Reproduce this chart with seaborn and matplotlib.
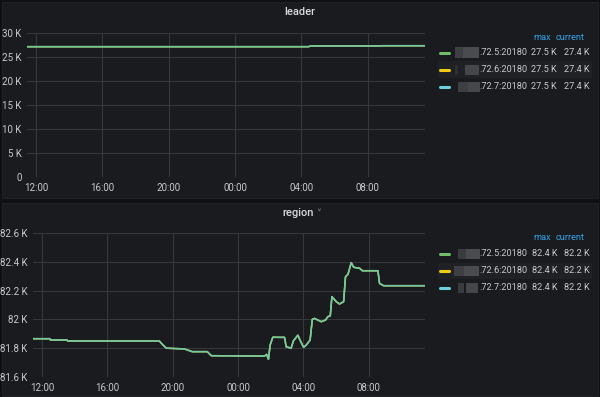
import matplotlib
matplotlib.use("Agg")
import matplotlib.pyplot as plt
import matplotlib.dates as mdates
from matplotlib.patches import Rectangle
import seaborn as sns
import pandas as pd
from datetime import datetime, timedelta

# ---------------- data ----------------
series_names = [".72.5:20180", ".72.6:20180", ".72.7:20180"]
series_colors = ["#73BF69", "#F2CC0C", "#6ED0E0"]

leader_times = ["11:27", "04:25", "04:35", "08:40", "08:50", "11:27"]
leader_values = [27150, 27150, 27300, 27300, 27350, 27350]
leader_max = ["27.5 K", "27.5 K", "27.5 K"]
leader_current = ["27.4 K", "27.4 K", "27.4 K"]

region_times = ["11:27", "12:29", "12:31", "13:32", "13:34", "19:11", "19:22", "19:37",
                "20:43", "21:12", "22:07", "22:22", "01:37", "01:45", "01:52", "01:58",
                "02:08", "02:51", "02:57", "03:15", "03:24", "03:40", "03:49", "04:01",
                "04:11", "04:25", "04:33", "04:41", "05:06", "05:22", "05:30", "05:39",
                "05:45", "06:01", "06:13", "06:28", "06:35", "06:44", "06:56", "07:05",
                "07:27", "07:37", "08:34", "08:40", "08:55", "11:27"]
region_values = [81866, 81866, 81857, 81857, 81850, 81850, 81827, 81800,
                 81795, 81776, 81776, 81748, 81745, 81757, 81723, 81822,
                 81876, 81875, 81810, 81800, 81852, 81890, 81852, 81806,
                 81822, 81857, 82000, 82007, 81984, 81996, 82019, 82024,
                 82158, 82123, 82107, 82123, 82296, 82313, 82394, 82362,
                 82355, 82338, 82338, 82250, 82234, 82234]
region_max = ["82.4 K", "82.4 K", "82.4 K"]
region_current = ["82.2 K", "82.2 K", "82.2 K"]

leader_yticks = [0, 5000, 10000, 15000, 20000, 25000, 30000]
region_yticks = [81600, 81800, 82000, 82200, 82400, 82600]


def to_dt(times):
    base = datetime(2020, 1, 1)
    out, day, prev = [], 0, None
    for t in times:
        h, m = map(int, t.split(":"))
        mins = h * 60 + m
        if prev is not None and mins < prev:
            day += 1
        prev = mins
        out.append(base + timedelta(days=day, minutes=mins))
    return out


def make_df(times, values, name):
    dts = to_dt(times)
    return pd.DataFrame({"time": dts, "value": values, "series": name})


# ---------------- style ----------------
sns.set_theme(style="dark")
plt.rcParams["font.family"] = ["Roboto", "DejaVu Sans"]

W, H = 600, 397
BG = "#0f1013"
PANEL = "#1a1b1f"
GRID = "#36373b"
TXT = "#c8c9ca"

fig = plt.figure(figsize=(W / 100, H / 100), dpi=100, facecolor=BG)


def fx(x):
    return x / W


def fy(y):
    return 1 - y / H


# panel backgrounds
for (y0, y1) in [(2, 198), (203, 396)]:
    fig.patches.append(Rectangle((fx(2), fy(y1)), fx(596), (y1 - y0) / H,
                                 transform=fig.transFigure, facecolor=PANEL,
                                 edgecolor="#232428", lw=0.6, zorder=-5))

t0 = datetime(2020, 1, 1, 11, 27)
t1 = datetime(2020, 1, 2, 11, 27)


def style_axes(ax, yticks, fmt):
    ax.set_facecolor("none")
    for s in ax.spines.values():
        s.set_visible(False)
    ax.set_xlim(t0, t1)
    ax.set_ylim(yticks[0], yticks[-1])
    ax.set_yticks(yticks)
    ax.set_yticklabels([fmt(v) for v in yticks])
    ax.xaxis.set_major_locator(mdates.HourLocator(byhour=[0, 4, 8, 12, 16, 20]))
    ax.xaxis.set_major_formatter(mdates.DateFormatter("%H:%M"))
    ax.grid(True, color=GRID, lw=0.8)
    ax.tick_params(colors=TXT, labelsize=7, length=0, pad=4)
    ax.set_xlabel("")
    ax.set_ylabel("")
    leg = ax.get_legend()
    if leg:
        leg.remove()


def kfmt_leader(v):
    return "0" if v == 0 else f"{int(v / 1000)} K"


def kfmt_region(v):
    s = f"{v / 1000:.1f}"
    if s.endswith(".0"):
        s = s[:-2]
    return f"{s} K"


line_alpha = [1.0, 1.0, 0.55]
line_z = [2.2, 2.1, 2.3]


def draw_series(ax, times, values):
    for name, col, a, z in zip(series_names, series_colors, line_alpha, line_z):
        sns.lineplot(data=make_df(times, values, name), x="time", y="value",
                     color=col, ax=ax, estimator=None, sort=False,
                     lw=1.1, alpha=a, zorder=z)


# upper panel
ax1 = fig.add_axes([fx(27), fy(177), fx(425 - 27), (177 - 33) / H])
draw_series(ax1, leader_times, leader_values)
style_axes(ax1, leader_yticks, kfmt_leader)

# lower panel
ax2 = fig.add_axes([fx(33), fy(377), fx(425 - 33), (377 - 233) / H])
draw_series(ax2, region_times, region_values)
style_axes(ax2, region_yticks, kfmt_region)

# titles
fig.text(fx(300), fy(12), "leader", color="#d8d9da", fontsize=8, ha="center",
         va="center", fontweight="medium")
fig.text(fx(298), fy(213), "region", color="#d8d9da", fontsize=8, ha="center",
         va="center", fontweight="medium")
fig.text(fx(319), fy(214), "˅", color="#8e8e8e", fontsize=7, ha="center",
         va="center", family=["DejaVu Sans"])

LFS = 6.6


# legends
def draw_legend(top, maxes, currents, blur_specs):
    fig.text(fx(551), fy(top), "max", color="#33a2e5", fontsize=LFS, ha="right",
             va="center")
    fig.text(fx(585), fy(top), "current", color="#33a2e5", fontsize=LFS, ha="right",
             va="center")
    for i, name in enumerate(series_names):
        y = top + 15.5 + i * 17
        if i == 1:
            fig.patches.append(Rectangle((fx(438), fy(y + 8)), fx(154), 16 / H,
                                         transform=fig.transFigure,
                                         facecolor="#202125", edgecolor="none",
                                         zorder=-4))
        fig.add_artist(plt.Line2D([fx(440), fx(449)], [fy(y), fy(y)],
                                  color=series_colors[i], lw=2.2,
                                  transform=fig.transFigure))
        for (bx, bw, bc) in blur_specs[i]:
            fig.patches.append(Rectangle((fx(bx), fy(y + 5)), fx(bw), 10 / H,
                                         transform=fig.transFigure,
                                         facecolor=bc, edgecolor="none",
                                         zorder=2))
        fig.text(fx(479), fy(y), name, color=TXT, fontsize=LFS, ha="left",
                 va="center")
        fig.text(fx(557), fy(y), maxes[i], color=TXT, fontsize=LFS, ha="right",
                 va="center")
        fig.text(fx(590), fy(y), currents[i], color=TXT, fontsize=LFS, ha="right",
                 va="center")


blur_up = [[(455, 8, "#3e3f43"), (463, 16, "#4a4b4f")],
           [(455, 3, "#2e2f33"), (465, 14, "#45464a")],
           [(458, 10, "#3e3f43"), (468, 12, "#46474b")]]
blur_dn = [[(458, 8, "#3a3b3f"), (466, 14, "#4a4b4f")],
           [(454, 10, "#3e3f43"), (464, 15, "#4a4b4f")],
           [(458, 6, "#3a3b3f"), (466, 12, "#45464a")]]
draw_legend(37, leader_max, leader_current, blur_up)
draw_legend(238, region_max, region_current, blur_dn)

fig.savefig("out.png", dpi=100, facecolor=BG)
